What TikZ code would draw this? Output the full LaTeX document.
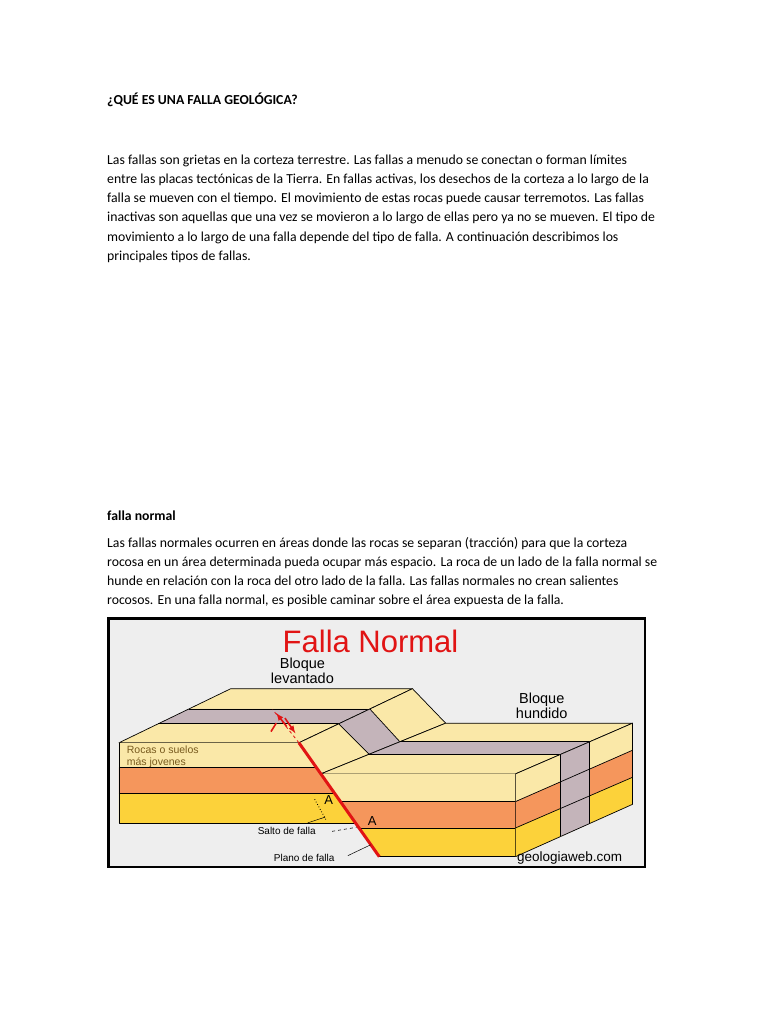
\documentclass[tikz,border=0pt]{standalone}
\usepackage{fontspec}
\setmainfont{Carlito}
\newfontfamily\arialf{Liberation Sans}
\begin{document}
\begin{tikzpicture}[x=1pt,y=-1pt,
  txt/.style={anchor=base west,inner sep=0pt,font=\fontsize{13.75}{16}\selectfont},
  btxt/.style={txt,font=\fontsize{13.75}{16}\selectfont\bfseries},
  lbl/.style={inner sep=0pt,font=\arialf\fontsize{14.5}{15}\selectfont},
  slbl/.style={inner sep=0pt,font=\arialf\fontsize{10}{11}\selectfont},
  edge/.style={draw=black,line width=0.7pt,line join=round}]
\definecolor{ly}{RGB}{250,232,168}
\definecolor{og}{RGB}{245,150,92}
\definecolor{yl}{RGB}{252,210,58}
\definecolor{gs}{RGB}{196,180,186}
\definecolor{bg}{RGB}{238,238,238}
\definecolor{fred}{RGB}{225,20,20}
\useasboundingbox (0,0) rectangle (768,1024);
\fill[white] (0,0) rectangle (768,1024);
\node[btxt] (title) at (107,105) {¿QUÉ ES UNA FALLA GEOLÓGICA?};
\node[txt] (p1) at (107,165) {Las fallas son grietas en la corteza terrestre. Las fallas a menudo se conectan o forman límites};
\node[txt] (p2) at (107,184) {entre las placas tectónicas de la Tierra. En fallas activas, los desechos de la corteza a lo largo de la};
\node[txt] (p3) at (107,203) {falla se mueven con el tiempo. El movimiento de estas rocas puede causar terremotos. Las fallas};
\node[txt] (p4) at (107,222) {inactivas son aquellas que una vez se movieron a lo largo de ellas pero ya no se mueven. El tipo de};
\node[txt] (p5) at (107,241) {movimiento a lo largo de una falla depende del tipo de falla. A continuación describimos los};
\node[txt] (p6) at (107,260) {principales tipos de fallas.};
\node[btxt] (h2) at (107,520) {falla normal};
\node[txt] (q1) at (107,547) {Las fallas normales ocurren en áreas donde las rocas se separan (tracción) para que la corteza};
\node[txt] (q2) at (107,566) {rocosa en un área determinada pueda ocupar más espacio. La roca de un lado de la falla normal se};
\node[txt] (q3) at (107,585) {hunde en relación con la roca del otro lado de la falla. Las fallas normales no crean salientes};
\node[txt] (q4) at (107,604) {rocosos. En una falla normal, es posible caminar sobre el área expuesta de la falla.};
\begin{scope}[shift={(105,615)},xscale=0.3494,yscale=0.338]
\fill[bg] (10,10) rectangle (1545,745);
% left block top face
\fill[ly] (360,218)--(880,218)--(555,378)--(40,378)--cycle;
\fill[gs] (240,278)--(758,278)--(669,322)--(152,322)--cycle;
\draw[edge] (360,218)--(880,218)--(555,378)--(40,378)--cycle;
\draw[edge] (240,278)--(758,278) (669,322)--(152,322);
% left block front
\fill[ly] (40,378)--(555,378)--(605.5,452)--(40,452)--cycle;
\fill[og] (40,452)--(605.5,452)--(657.4,528)--(40,528)--cycle;
\fill[yl] (40,528)--(657.4,528)--(716.8,615)--(40,615)--cycle;
\draw[edge] (40,378)--(40,615)--(716.8,615) (40,452)--(605.5,452) (40,528)--(657.4,528);
% slope face
\fill[ly] (555,378)--(880,218)--(975,320)--(617.8,470)--cycle;
\fill[gs] (669,322)--(758,278)--(844,375)--(756,412)--cycle;
\draw[edge] (555,378)--(880,218)--(975,320)--(617.8,470);
\draw[edge] (669,322)--(756,412) (758,278)--(844,375);
% down block top
\fill[ly] (617.8,470)--(975,320)--(1510,320)--(1175,470)--cycle;
\fill[gs] (756,412)--(844,375)--(1387,375)--(1304,412)--cycle;
\draw[edge] (617.8,470)--(975,320)--(1510,320)--(1175,470)--cycle;
\draw[edge] (844,375)--(1387,375) (756,412)--(1304,412);
% down block front
\fill[ly] (617.8,470)--(1175,470)--(1175,552)--(673.8,552)--cycle;
\fill[og] (673.8,552)--(1175,552)--(1175,630)--(727,630)--cycle;
\fill[yl] (727,630)--(1175,630)--(1175,715)--(785,715)--cycle;
\draw[edge] (1175,470)--(1175,715)--(785,715) (673.8,552)--(1175,552) (727,630)--(1175,630);
% right face
\fill[ly] (1175,470)--(1510,320)--(1510,400)--(1175,552)--cycle;
\fill[og] (1175,552)--(1510,400)--(1510,480)--(1175,630)--cycle;
\fill[yl] (1175,630)--(1510,480)--(1510,560)--(1175,715)--cycle;
\fill[gs] (1304,412)--(1387,375)--(1387,618)--(1304,655)--cycle;
\draw[edge] (1175,470)--(1510,320)--(1510,560)--(1175,715) (1175,552)--(1510,400) (1175,630)--(1510,480);
\draw[edge] (1304,412)--(1304,655) (1387,375)--(1387,618);
% fault
\coordinate (ftop) at (555,378);
\coordinate (fbot) at (785,715);
\draw[fred,line width=3pt] (ftop)--(fbot);
\draw[fred,line width=0.8pt,dashed] (ftop)--(480,280);
\draw[fred,line width=1.6pt,-latex] (520,330)--(490,290);
\draw[fred,line width=1.6pt,-latex] (515,305)--(545,350);
\draw[fred,line width=1.6pt] (490,320)--(475,345);
% salto de falla
\coordinate (aa) at (600,545);
\coordinate (ab) at (632,605);
\draw[black,dotted,line width=0.8pt] (aa)--(ab);
\draw[black,dashed,line width=0.6pt] (650,640)--(720,628);
\draw[black,line width=0.5pt] (580,615)--(630,598);
\draw[black,line width=0.5pt] (695,712)--(760,680);
% labels
\node[inner sep=0pt,text=fred,font=\arialf\fontsize{31}{34}\selectfont] (ftitle) at (760,78) {Falla Normal};
\node[lbl,align=center] (blev) at (565,165) {Bloque\\levantado};
\node[lbl,align=center] (bhun) at (1250,270) {Bloque\\hundido};
\node[inner sep=0pt,anchor=west,align=left,text={rgb,255:red,120;green,90;blue,30},font=\arialf\fontsize{10.5}{12}\selectfont] (rocas) at (62,418) {Rocas o suelos\\más jovenes};
\node[lbl,font=\arialf\fontsize{13}{14}\selectfont] (a1) at (640,548) {A};
\node[lbl,font=\arialf\fontsize{13}{14}\selectfont] (a2) at (765,610) {A};
\node[slbl] (salto) at (520,640) {Salto de falla};
\node[slbl] (plano) at (570,718) {Plano de falla};
\node[lbl,font=\arialf\fontsize{13.5}{15}\selectfont] (web) at (1330,720) {geologiaweb.com};
\draw[black,line width=2.5pt] (10,10) rectangle (1545,745);
\end{scope}
\end{tikzpicture}
\end{document}
